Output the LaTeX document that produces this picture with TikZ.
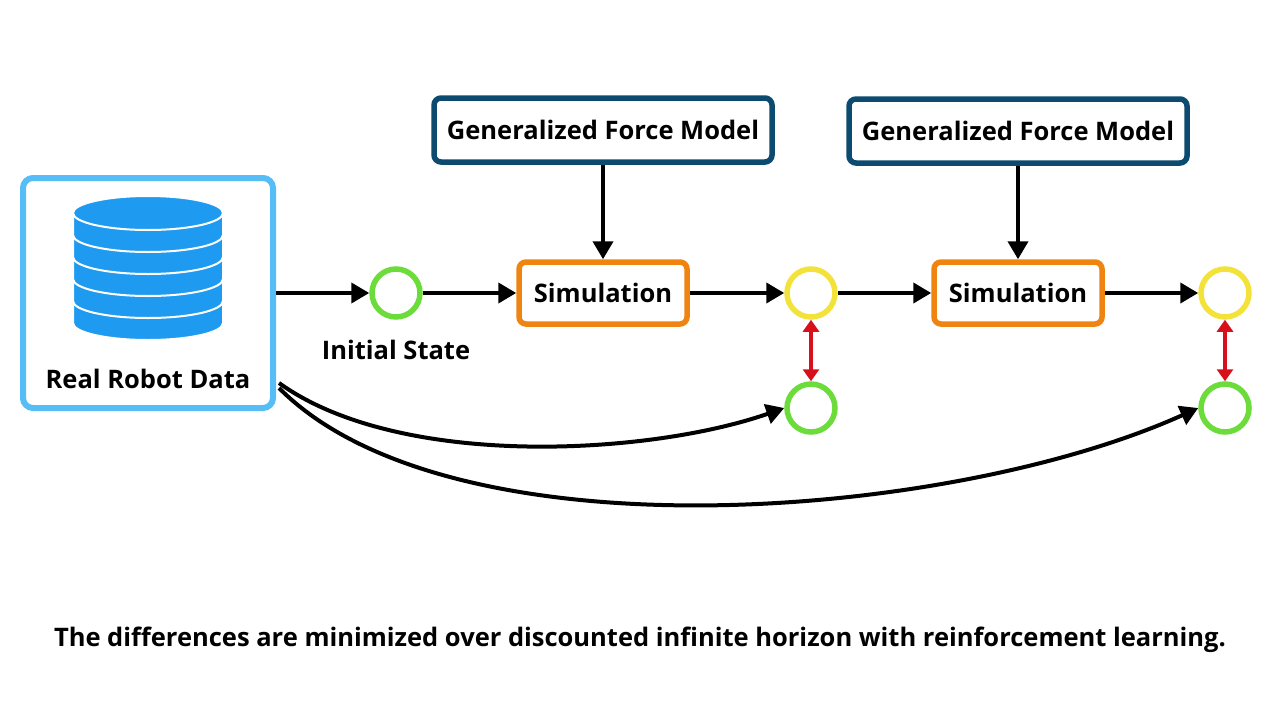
\documentclass[tikz,border=0pt]{standalone}
\usepackage{fontspec}
\setmainfont{Open Sans}
\usetikzlibrary{arrows.meta}
\definecolor{lblue}{HTML}{56BDF7}
\definecolor{dbblue}{HTML}{1E9BF0}
\definecolor{navy}{HTML}{0D4A70}
\definecolor{orng}{HTML}{F08410}
\definecolor{grn}{HTML}{6BDC3A}
\definecolor{yel}{HTML}{F2E23A}
\definecolor{rd}{HTML}{D8101C}
\begin{document}
\begin{tikzpicture}[x=1pt,y=-1pt,
 txt/.style={font=\bfseries\fontsize{25.5}{30}\selectfont},
 arr/.style={line width=4pt,-{Triangle[length=18pt,width=20pt]}},
 sim/.style={draw=orng,line width=5.5pt,rounded corners=7pt,minimum width=168pt,minimum height=62pt,txt,inner sep=0pt},
 gfm/.style={draw=navy,line width=5.5pt,rounded corners=7pt,minimum width=338pt,minimum height=64pt,txt,inner sep=0pt},
 st/.style={circle,line width=5.5pt,minimum size=48pt,inner sep=0pt}]
\useasboundingbox (0,0) rectangle (1280,720);
\node[draw=lblue,line width=6pt,rounded corners=10pt,minimum width=250pt,minimum height=230pt] (data) at (148,293) {};
% database icon
\foreach \y in {323,301,279,257,235}{
  \fill[dbblue,draw=white,line width=2pt] (73,\y-22) -- (73,\y) arc[start angle=180,end angle=0,x radius=75,y radius=17] -- (223,\y-22) -- cycle;
}
\fill[dbblue,draw=white,line width=2pt] (148,213) ellipse[x radius=75,y radius=17];
\node[txt] (dlab) at (148,379) {Real Robot Data};
\node[st,draw=grn] (init) at (396,293) {};
\node[txt] (initlab) at (396,350) {Initial State};
\node[sim] (sim1) at (603,293) {Simulation};
\node[sim] (sim2) at (1018,293) {Simulation};
\node[gfm] (g1) at (603,130) {Generalized Force Model};
\node[gfm] (g2) at (1018,131) {Generalized Force Model};
\node[st,draw=yel] (y1) at (811,293) {};
\node[st,draw=grn] (c1) at (811,408) {};
\node[st,draw=yel] (y2) at (1225,293) {};
\node[st,draw=grn] (c2) at (1225,408) {};
\draw[arr] (data.east |- init) -- (init);
\draw[arr] (init) -- (sim1);
\draw[arr] (sim1) -- (y1);
\draw[arr] (y1) -- (sim2);
\draw[arr] (sim2) -- (y2);
\draw[arr] (g1) -- (sim1);
\draw[arr] (g2) -- (sim2);
\draw[rd,line width=3.5pt,{Triangle[length=12pt,width=16pt]}-{Triangle[length=12pt,width=16pt]}] (y1) -- (c1);
\draw[rd,line width=3.5pt,{Triangle[length=12pt,width=16pt]}-{Triangle[length=12pt,width=16pt]}] (y2) -- (c2);
\coordinate (s1) at (279,383);
\coordinate (s2) at (279,388);
\draw[arr] (s1) .. controls (400,470) and (650,455) .. (c1.west);
\draw[arr] (s2) .. controls (450,560) and (950,520) .. (c2.west);
\node[txt] (cap) at (640,640) {The differences are minimized over discounted infinite horizon with reinforcement learning.};
\end{tikzpicture}
\end{document}
